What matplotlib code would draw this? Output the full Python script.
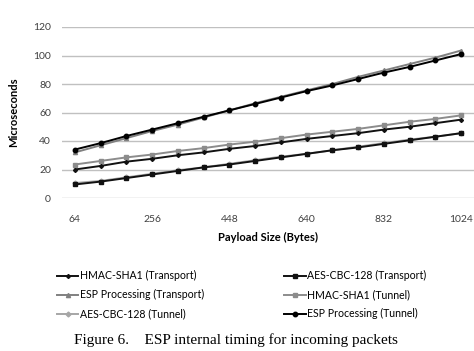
import matplotlib.pyplot as plt
import numpy as np

payload = [64, 128, 192, 256, 320, 384, 448, 512, 576, 640, 704, 768, 832, 896, 960, 1024]
tick_labels = ['64', '256', '448', '640', '832', '1024']

hmac_transport = [20, 22.5, 25.5, 27.5, 30, 32, 34.5, 36.5, 39, 41.5, 43.5, 45.5, 48, 50, 52.5, 55]
aes_transport = [9.5, 11.5, 14, 16.5, 19, 21.5, 23.5, 26, 28.5, 31, 33.5, 35.5, 38, 40.5, 43, 45.5]
esp_transport = [32, 37, 42, 47, 51.5, 56.5, 61.5, 66.5, 71, 75.5, 80, 85, 89.5, 94, 98.5, 103.5]
hmac_tunnel = [23.5, 26, 28.5, 30.5, 33, 35, 37.5, 39.5, 42, 44.5, 46.5, 48.5, 51, 53.5, 55.5, 58]
aes_tunnel = [10.5, 12, 14.5, 17, 19.5, 21.5, 24, 26.5, 29, 31, 33.5, 36, 38.5, 41, 43, 45.5]
esp_tunnel = [34, 38.5, 43.5, 48, 52.5, 57, 61.5, 66, 70.5, 75, 79, 83.5, 88, 92, 96.5, 101]

plt.rcParams['font.family'] = ['Lato', 'DejaVu Sans']

fig = plt.figure(figsize=(4.74, 3.51), dpi=100)
ax = fig.add_axes([62/474, 1-198/351, 412/474, 171/351])

x = np.arange(len(payload))
series = [
    ('HMAC-SHA1 (Transport)', hmac_transport, '#111111', 'D', 2),
    ('AES-CBC-128 (Transport)', aes_transport, '#111111', 's', 3),
    ('ESP Processing (Transport)', esp_transport, '#808080', '^', 3),
    ('HMAC-SHA1 (Tunnel)', hmac_tunnel, '#8c8c8c', 's', 3),
    ('AES-CBC-128 (Tunnel)', aes_tunnel, '#a6a6a6', 'D', 2.5),
    ('ESP Processing (Tunnel)', esp_tunnel, '#000000', 'o', 3.2),
]
# draw order so black lines sit on top like the original
order = [4, 3, 2, 1, 0, 5]
handles = [None]*6
for i in order:
    lab, vals, c, m, ms = series[i]
    h, = ax.plot(x, vals, color=c, marker=m, markersize=ms, lw=1.4, label=lab)
    handles[i] = h

ax.set_xlim(-0.5, len(payload)-0.5)
ax.set_ylim(0, 120)
ax.set_yticks(range(0, 121, 20))
ax.set_xticks(x[::3])
ax.set_xticklabels(tick_labels)
ax.yaxis.grid(True, color='#c0c0c0', lw=1)
ax.set_axisbelow(True)
for s in ax.spines.values():
    s.set_visible(False)
ax.tick_params(length=0, labelsize=7.5, labelcolor='#404040', pad=8)
ax.tick_params(axis='x', pad=12)
ax.set_ylabel('Microseconds', fontsize=8, fontweight='bold', labelpad=10)
ax.set_xlabel('Payload Size (Bytes)', fontsize=8, fontweight='bold', labelpad=6)

leg_order = [0, 2, 4, 1, 3, 5]
fig.legend([handles[i] for i in leg_order], [series[i][0] for i in leg_order],
           ncol=2, loc='upper left', bbox_to_anchor=(52/474, 1-265/351),
           frameon=False, fontsize=7.6, handlelength=2.0, handletextpad=0.15,
           columnspacing=7.6, labelspacing=0.75, borderpad=0)

fig.text(236/474, 1-340/351, 'Figure 6.    ESP internal timing for incoming packets',
         family='Liberation Serif', fontsize=11, ha='center', va='center')

fig.savefig('out.png', dpi=100)
